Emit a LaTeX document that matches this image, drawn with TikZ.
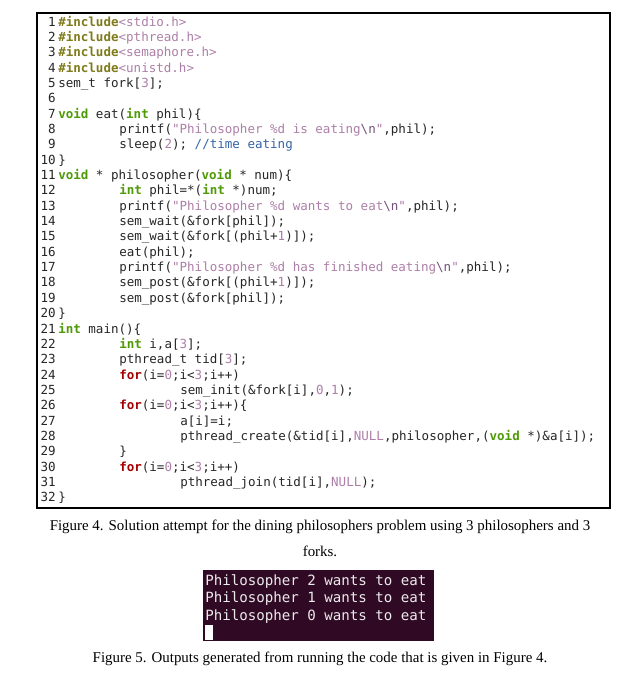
\documentclass[tikz,border=0pt]{standalone}
\usepackage{fontspec}
\setmainfont{Liberation Serif}
\newfontfamily\codefont{DejaVu Sans Mono}
\definecolor{kwc}{HTML}{4E9A06}
\definecolor{forc}{HTML}{A40000}
\definecolor{ppc}{HTML}{7F7A1A}
\definecolor{strc}{HTML}{AD7FA8}
\definecolor{escc}{HTML}{75507B}
\definecolor{cmc}{HTML}{3465A4}
\definecolor{termbg}{HTML}{300A24}
\newcommand{\KW}[1]{\textcolor{kwc}{\bfseries #1}}
\newcommand{\FR}[1]{\textcolor{forc}{\bfseries #1}}
\newcommand{\PP}[1]{\textcolor{ppc}{\bfseries #1}}
\newcommand{\ST}[1]{\textcolor{strc}{#1}}
\newcommand{\ES}[1]{\textcolor{escc}{#1}}
\newcommand{\CM}[1]{\textcolor{cmc}{#1}}
\begin{document}
\begin{tikzpicture}[x=0.75pt,y=-0.75pt,
  code/.style={anchor=base west,inner sep=0pt,font=\codefont\fontsize{9.4pt}{11pt}\selectfont,text=black!85},
  lnum/.style={anchor=base east,inner sep=0pt,font=\codefont\fontsize{9.4pt}{11pt}\selectfont,text=black!85},
  term/.style={anchor=base west,inner sep=0pt,font=\codefont\fontsize{10.6pt}{12pt}\selectfont,text=white!92!black},
  capt/.style={inner sep=0pt,font=\fontsize{11.2pt}{13pt}\selectfont}]
\useasboundingbox (0,0) rectangle (642,675);
\fill[white] (0,0) rectangle (642,675);
\draw[line width=0.8pt] (37,13) rectangle (610,508);
\def\ly#1{26+(#1-1)*15.35}
\foreach \i in {1,...,32}{\node[lnum] (n\i) at (56,{26+(\i-1)*15.35}) {\i};}
\def\xa{58}\def\xb{119}\def\xc{180}
\node[code] (c1) at (\xa,{\ly1}) {\PP{\#include}\ST{<stdio.h>}};
\node[code] (c2) at (\xa,{\ly2}) {\PP{\#include}\ST{<pthread.h>}};
\node[code] (c3) at (\xa,{\ly3}) {\PP{\#include}\ST{<semaphore.h>}};
\node[code] (c4) at (\xa,{\ly4}) {\PP{\#include}\ST{<unistd.h>}};
\node[code] (c5) at (\xa,{\ly5}) {sem\_t fork[\ST{3}];};
\node[code] (c7) at (\xa,{\ly7}) {\KW{void} eat(\KW{int} phil)\{};
\node[code] (c8) at (\xb,{\ly8}) {printf(\ST{"Philosopher \%d is eating}\ES{\textbackslash n}\ST{"},phil);};
\node[code] (c9) at (\xb,{\ly9}) {sleep(\ST{2}); \CM{//time eating}};
\node[code] (c10) at (\xa,{\ly{10}}) {\}};
\node[code] (c11) at (\xa,{\ly{11}}) {\KW{void} * philosopher(\KW{void} * num)\{};
\node[code] (c12) at (\xb,{\ly{12}}) {\KW{int} phil=*(\KW{int} *)num;};
\node[code] (c13) at (\xb,{\ly{13}}) {printf(\ST{"Philosopher \%d wants to eat}\ES{\textbackslash n}\ST{"},phil);};
\node[code] (c14) at (\xb,{\ly{14}}) {sem\_wait(\&fork[phil]);};
\node[code] (c15) at (\xb,{\ly{15}}) {sem\_wait(\&fork[(phil+\ST{1})]);};
\node[code] (c16) at (\xb,{\ly{16}}) {eat(phil);};
\node[code] (c17) at (\xb,{\ly{17}}) {printf(\ST{"Philosopher \%d has finished eating}\ES{\textbackslash n}\ST{"},phil);};
\node[code] (c18) at (\xb,{\ly{18}}) {sem\_post(\&fork[(phil+\ST{1})]);};
\node[code] (c19) at (\xb,{\ly{19}}) {sem\_post(\&fork[phil]);};
\node[code] (c20) at (\xa,{\ly{20}}) {\}};
\node[code] (c21) at (\xa,{\ly{21}}) {\KW{int} main()\{};
\node[code] (c22) at (\xb,{\ly{22}}) {\KW{int} i,a[\ST{3}];};
\node[code] (c23) at (\xb,{\ly{23}}) {pthread\_t tid[\ST{3}];};
\node[code] (c24) at (\xb,{\ly{24}}) {\FR{for}(i=\ST{0};i<\ST{3};i++)};
\node[code] (c25) at (\xc,{\ly{25}}) {sem\_init(\&fork[i],\ST{0},\ST{1});};
\node[code] (c26) at (\xb,{\ly{26}}) {\FR{for}(i=\ST{0};i<\ST{3};i++)\{};
\node[code] (c27) at (\xc,{\ly{27}}) {a[i]=i;};
\node[code] (c28) at (\xc,{\ly{28}}) {pthread\_create(\&tid[i],\ST{NULL},philosopher,(\KW{void} *)\&a[i]);};
\node[code] (c29) at (\xb,{\ly{29}}) {\}};
\node[code] (c30) at (\xb,{\ly{30}}) {\FR{for}(i=\ST{0};i<\ST{3};i++)};
\node[code] (c31) at (\xc,{\ly{31}}) {pthread\_join(tid[i],\ST{NULL});};
\node[code] (c32) at (\xa,{\ly{32}}) {\}};
\node[capt] (cap4) at (320,527) {Figure 4. Solution attempt for the dining philosophers problem using 3 philosophers and 3};
\node[capt] (cap4b) at (320,551) {forks.};
\fill[termbg] (203,570) rectangle (434,641);
\node[term] (t1) at (205,585) {Philosopher 2 wants to eat};
\node[term] (t2) at (205,602.5) {Philosopher 1 wants to eat};
\node[term] (t3) at (205,620) {Philosopher 0 wants to eat};
\fill[white] (205,625) rectangle (213,640);
\node[capt] (cap5) at (320,659) {Figure 5. Outputs generated from running the code that is given in Figure 4.};
\end{tikzpicture}
\end{document}
